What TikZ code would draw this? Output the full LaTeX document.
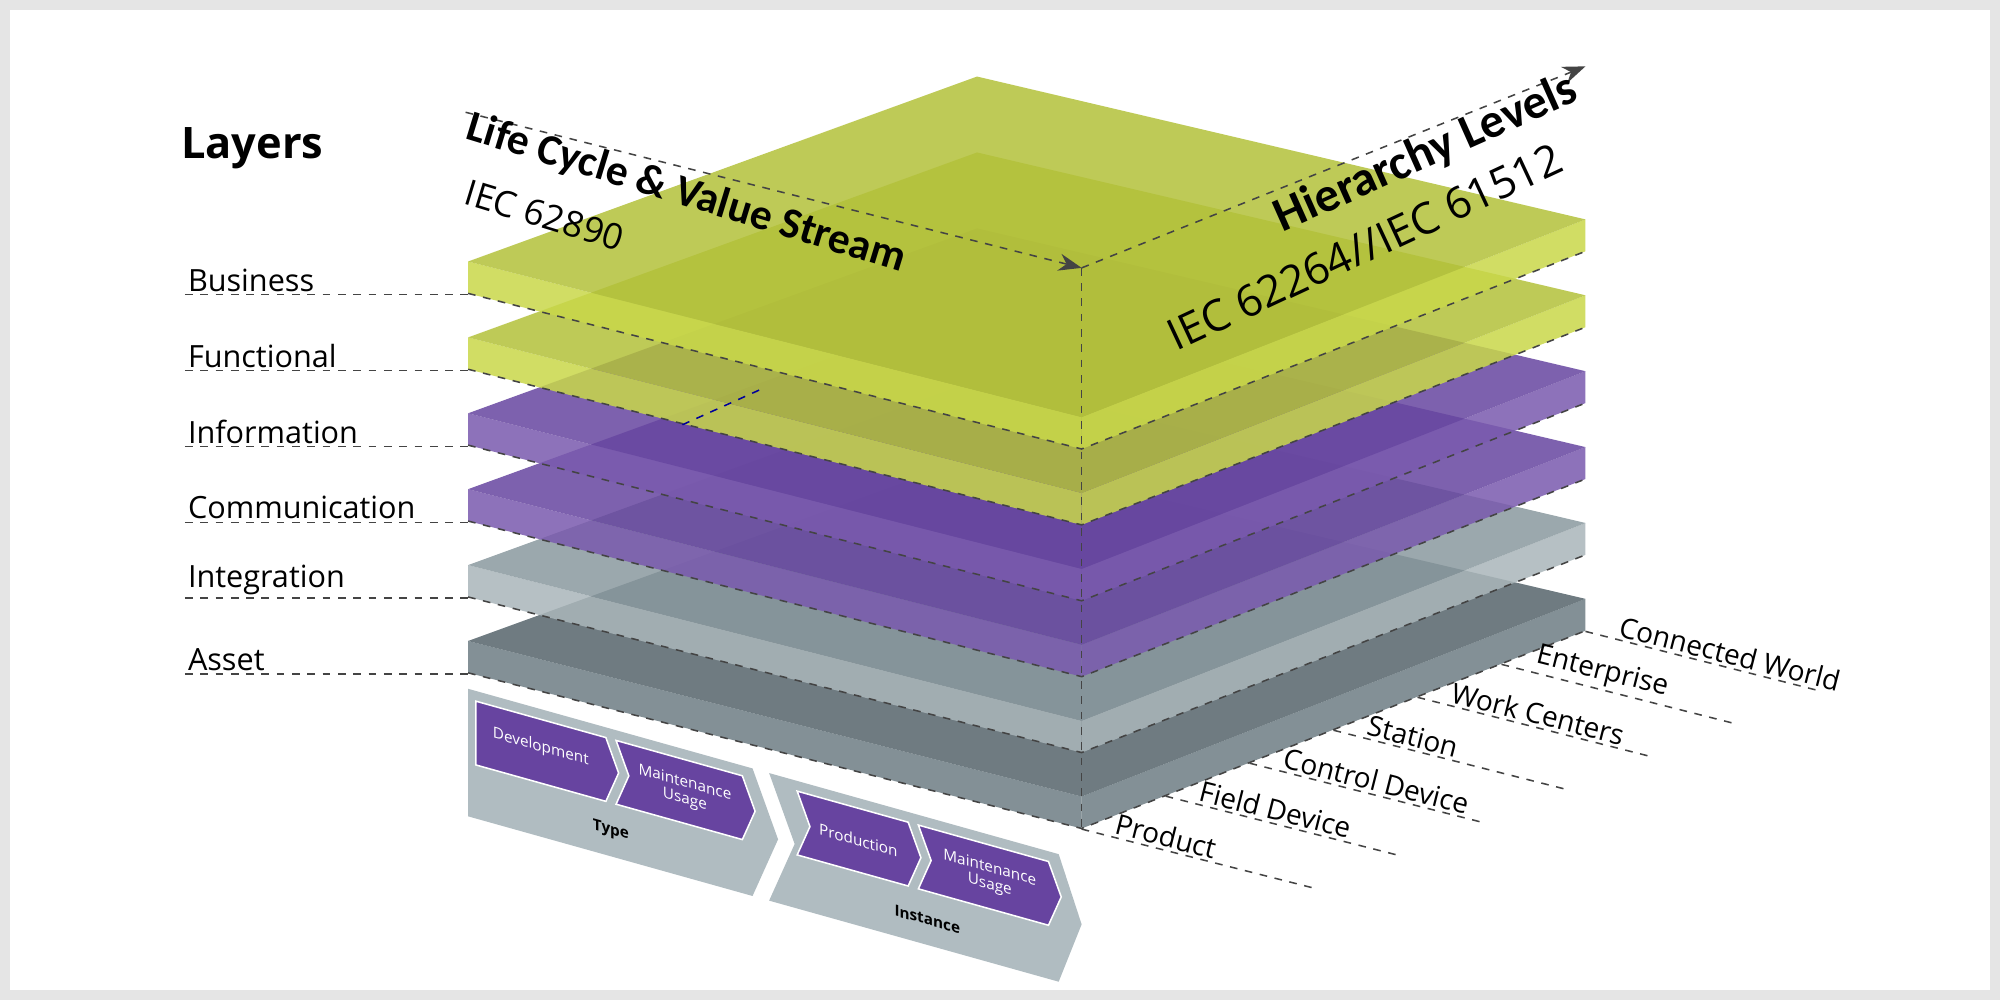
\documentclass[tikz,border=0pt]{standalone}
\usepackage{fontspec}
\setmainfont{Open Sans}
\newfontfamily\titlefont{Carlito}
\usetikzlibrary{arrows.meta,calc}
\definecolor{ylwtop}{HTML}{B3C13A}
\definecolor{ylwside}{HTML}{C9D84A}
\definecolor{purtop}{HTML}{6746A0}
\definecolor{purside}{HTML}{7A5AAE}
\definecolor{lgtop}{HTML}{8A999F}
\definecolor{lgside}{HTML}{AAB6BA}
\definecolor{dgtop}{HTML}{56656C}
\definecolor{dgside}{HTML}{6E7D84}
\definecolor{band}{HTML}{B0BCC1}
\definecolor{chev}{HTML}{6744A0}
\definecolor{dashc}{HTML}{444444}
\tikzset{
  dashline/.style={draw=dashc, dashed, line width=0.6pt},
  layerlabel/.style={anchor=south west, inner sep=1pt, font=\fontsize{12}{14}\selectfont},
  levellabel/.style={anchor=south west, inner sep=1pt, rotate=-14.2, font=\fontsize{11}{13}\selectfont},
  chevron/.style={fill=chev, draw=white, line width=0.6pt},
  chevtext/.style={text=white, align=center, transform shape, font=\fontsize{6}{6.5}\selectfont},
  bandtext/.style={transform shape, font=\bfseries\fontsize{6}{7}\selectfont}
}
% one layer slab: #1 shift down, #2 top colour, #3 side colour
\newcommand\layerslab[3]{%
  \begin{scope}[shift={(0,#1)}, fill opacity=0.85]
    \fill[#3] (367,205) -- (848,327) -- (848,352) -- (367,230) -- cycle;
    \fill[#3] (848,327) -- (1243,172) -- (1243,197) -- (848,352) -- cycle;
    \fill[#2] (367,205) -- (848,327) -- (1243,172) -- (766,60) -- cycle;
  \end{scope}
  \draw[dashline, shift={(0,#1)}] (367,230) -- (848,352) -- (1243,197);
}
\begin{document}
\begin{tikzpicture}[x=0.5pt, y=-0.5pt]
\fill[gray!20] (0,0) rectangle (1568,784);
\fill[white] (8,8) rectangle (1560,776);
\useasboundingbox (0,0) rectangle (1568,784);

% layers, bottom first
\layerslab{297.5}{dgtop}{dgside}
\layerslab{238}{lgtop}{lgside}
\layerslab{178.5}{purtop}{purside}
\layerslab{119}{purtop}{purside}
\layerslab{59.5}{ylwtop}{ylwside}
\layerslab{0}{ylwtop}{ylwside}

\draw[blue!60!black, dashed, line width=0.6pt] (535,333) -- (597,305);

% layer names
\node[font=\bfseries\fontsize{17}{20}\selectfont, anchor=west] (layers) at (135,116) {Layers};
\foreach \name [count=\i from 0] in {Business,Functional,Information,Communication,Integration,Asset}{
  \coordinate (lab\i) at (145,{231+59.5*\i});
  \coordinate (lay\i) at (367,{231+59.5*\i});
  \node[layerlabel] at (lab\i) {\name};
  \draw[dashline] (lab\i) -- (lay\i);
}

% axes
\coordinate (lcstart) at (365,88);
\coordinate (corner) at (848,210);
\coordinate (hlend) at (1243,52);
\coordinate (base) at (848,650);
\draw[dashline, -{Stealth[length=9pt]}] (lcstart) -- (corner);
\draw[dashline, -{Stealth[length=9pt]}] (corner) -- (hlend);
\draw[dashline] (corner) -- (base);

\node[anchor=south west, rotate=-17, inner sep=0pt, font=\titlefont\bfseries\fontsize{17}{19}\selectfont] (lctitle) at (362,114) {Life Cycle \& Value Stream};
\node[anchor=south west, rotate=-17, inner sep=0pt, font=\fontsize{14}{16}\selectfont] (lciec) at (362,160) {IEC 62890};
\node[anchor=south east, rotate=24, inner sep=0pt, font=\titlefont\bfseries\fontsize{19}{21}\selectfont] (hltitle) at (1242,84) {Hierarchy Levels};
\node[anchor=south east, rotate=25, inner sep=0pt, font=\fontsize{17}{19}\selectfont] (hliec) at (1228,134) {IEC 62264//IEC 61512};

% hierarchy levels
\foreach \name [count=\i from 0] in {Product,Field Device,Control Device,Station,Work Centers,Enterprise,Connected World}{
  \coordinate (hs\i) at ({848+395*\i/6},{650-155*\i/6});
  \coordinate (he\i) at ({848+395*\i/6+185},{650-155*\i/6+47});
  \draw[dashline] (hs\i) -- (he\i);
  \node[levellabel] at ($(hs\i)!0.12!(he\i)$) {\name};
}

% life cycle bands
\begin{scope}[shift={(367,540)}, yslant=-0.28]
  \fill[band] (0,0) -- (223,0) -- (243,50) -- (223,100) -- (0,100) -- cycle;
  \fill[band] (236,0) -- (463,0) -- (481,50) -- (463,100) -- (236,100) -- (256,50) -- cycle;
  \draw[chevron] (6,8) -- (108,8) -- (118,33) -- (108,58) -- (6,58) -- cycle;
  \draw[chevron] (116,8) -- (215,8) -- (225,33) -- (215,58) -- (116,58) -- (126,33) -- cycle;
  \draw[chevron] (258,8) -- (345,8) -- (355,33) -- (345,58) -- (258,58) -- (268,33) -- cycle;
  \draw[chevron] (353,8) -- (455,8) -- (465,33) -- (455,58) -- (353,58) -- (363,33) -- cycle;
  \node[chevtext] (dev) at (57,30) {Development};
  \node[chevtext] (mu1) at (170,33) {Maintenance\\Usage};
  \node[chevtext] (prod) at (306,33) {Production};
  \node[chevtext] (mu2) at (409,33) {Maintenance\\Usage};
  \node[bandtext] (type) at (112,80) {Type};
  \node[bandtext] (inst) at (360,80) {Instance};
\end{scope}
\end{tikzpicture}
\end{document}
